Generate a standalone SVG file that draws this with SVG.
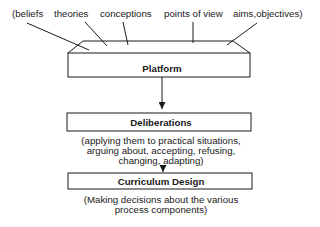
<svg xmlns="http://www.w3.org/2000/svg" width="320" height="227" viewBox="0 0 320 227">
<defs>
<style>
.t{font-family:"Liberation Sans",Arial,sans-serif;font-size:9.7px;fill:#1a1a1a}
.b{font-weight:bold;text-anchor:middle}
.c{text-anchor:middle}
.s{fill:none;stroke:#1a1a1a;stroke-width:1}
</style>
<marker id="ah" viewBox="0 0 8 8" refX="8" refY="4" markerWidth="7" markerHeight="7" orient="auto" markerUnits="userSpaceOnUse">
<path d="M0,0 L8,4 L0,8 Z" fill="#1a1a1a"/>
</marker>
</defs>
<rect width="320" height="227" fill="#fff"/>
<g id="labels">
<text class="t" x="12" y="17">(beliefs</text>
<text class="t" x="54" y="17">theories</text>
<text class="t" x="100" y="17">conceptions</text>
<text class="t" x="164" y="17">points of view</text>
<text class="t" x="233" y="17">aims,objectives)</text>
</g>
<g id="platform">
<path class="s" d="M68,53 L83,41 L233,41 L250,53"/>
<rect class="s" x="68" y="53" width="182" height="24"/>
<text class="t b" x="162" y="72">Platform</text>
</g>
<g id="deliberations">
<rect class="s" x="67" y="113" width="184" height="18"/>
<text class="t b" x="161" y="126">Deliberations</text>
<text class="t c" x="161" y="144">(applying them to practical situations,</text>
<text class="t c" x="161" y="154">arguing about, accepting, refusing,</text>
<text class="t c" x="161" y="163.5">changing, adapting)</text>
</g>
<g id="curriculum">
<rect class="s" x="68" y="173" width="184" height="16"/>
<text class="t b" x="161" y="184.5">Curriculum Design</text>
<text class="t c" x="161" y="203">(Making decisions about the various</text>
<text class="t c" x="161" y="213">process components)</text>
</g>
<g id="connectors">
<line class="s" x1="27" y1="23" x2="89" y2="50"/>
<line class="s" x1="85" y1="22" x2="107" y2="46"/>
<line class="s" x1="123" y1="22" x2="128" y2="45"/>
<line class="s" x1="193" y1="22" x2="193" y2="43"/>
<line class="s" x1="257" y1="23" x2="227" y2="45"/>
<line class="s" x1="162" y1="77" x2="162" y2="109" marker-end="url(#ah)"/>
<line class="s" x1="163" y1="166" x2="163" y2="172" marker-end="url(#ah)"/>
</g>
</svg>
